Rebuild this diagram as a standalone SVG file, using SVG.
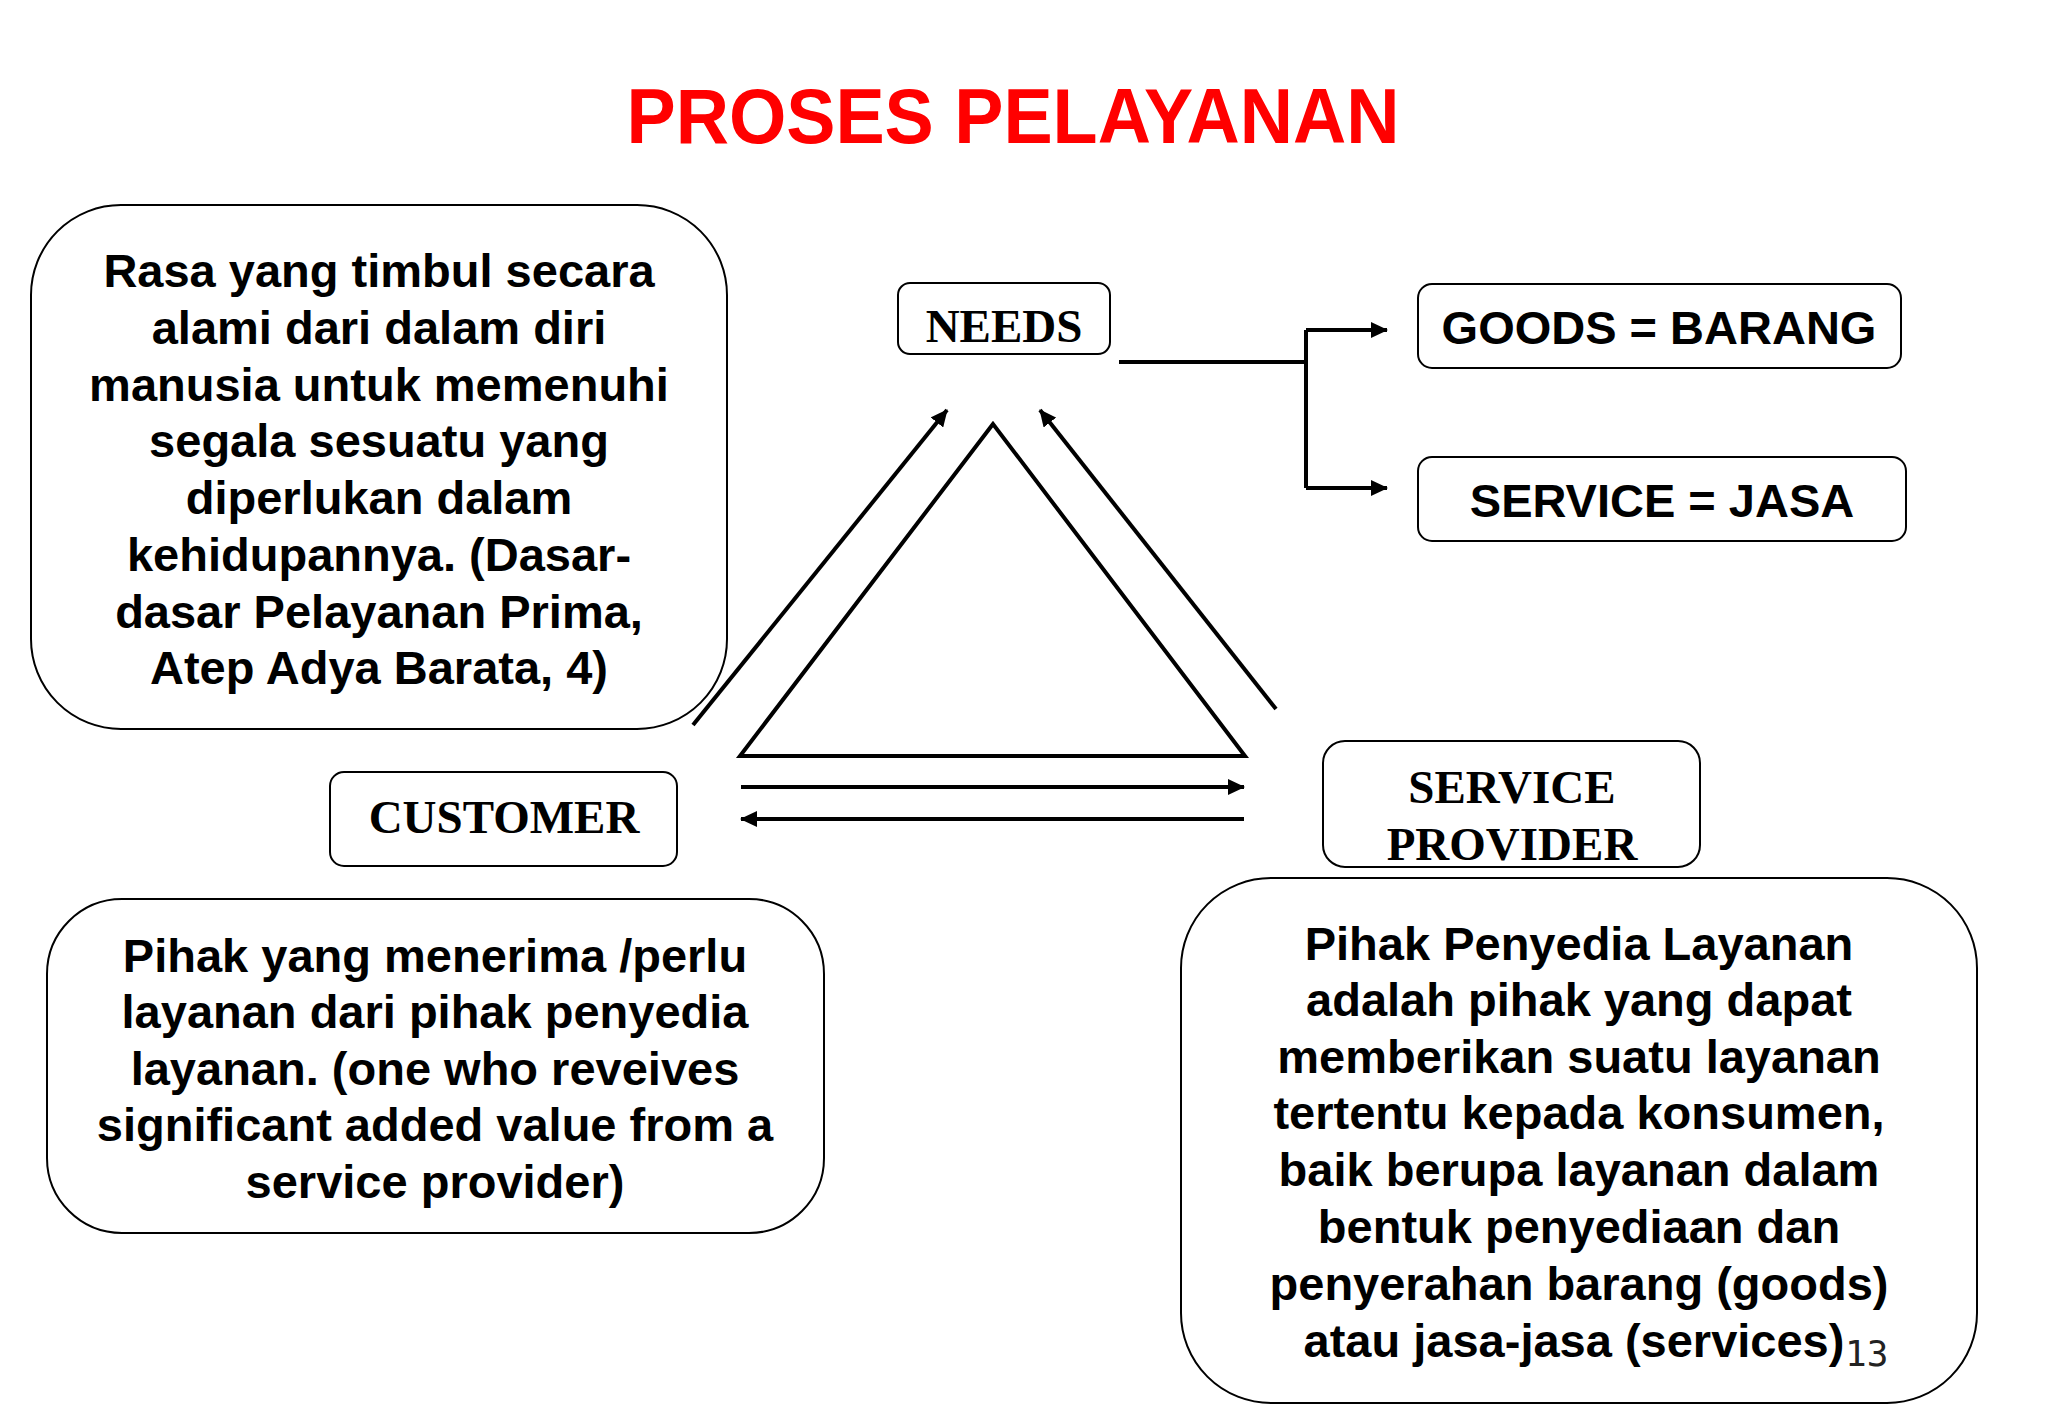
<svg xmlns="http://www.w3.org/2000/svg" width="2048" height="1418" viewBox="0 0 2048 1418">
<style>
.box{fill:#fff;stroke:#000;stroke-width:2}
.sans{font-family:"Liberation Sans",Arial,sans-serif;font-weight:bold;font-size:47px;fill:#000;text-anchor:middle}
.serif{font-family:"Liberation Serif","Times New Roman",serif;font-weight:bold;font-size:47px;fill:#000;text-anchor:middle}
.ln{fill:none;stroke:#000;stroke-width:4}
</style>
<defs>
<marker id="ah" markerUnits="userSpaceOnUse" markerWidth="17" markerHeight="16" refX="16" refY="8" orient="auto">
<path d="M0,0 L17,8 L0,16 z" fill="#000"/>
</marker>
</defs>
<rect width="2048" height="1418" fill="#fff"/>
<text id="title" x="1013" y="143" font-family="'Comic Sans MS','Liberation Sans',sans-serif" font-weight="bold" font-size="78" fill="#ff0000" text-anchor="middle" textLength="773" lengthAdjust="spacingAndGlyphs">PROSES PELAYANAN</text>

<g id="connectors">
<polygon class="ln" points="993,424 740,756 1245,756"/>
<line class="ln" x1="693" y1="725" x2="947" y2="410" marker-end="url(#ah)"/>
<line class="ln" x1="1276" y1="709" x2="1040" y2="410" marker-end="url(#ah)"/>
<line class="ln" x1="741" y1="787" x2="1244" y2="787" marker-end="url(#ah)"/>
<line class="ln" x1="1244" y1="819" x2="741" y2="819" marker-end="url(#ah)"/>
<path class="ln" d="M1119,362 H1306 M1306,330 V488"/>
<line class="ln" x1="1306" y1="330" x2="1387" y2="330" marker-end="url(#ah)"/>
<line class="ln" x1="1306" y1="488" x2="1387" y2="488" marker-end="url(#ah)"/>
</g>

<g id="needs-def">
<rect class="box" x="31" y="205" width="696" height="524" rx="90"/>
<text class="sans" x="379" y="287">Rasa yang timbul secara</text>
<text class="sans" x="379" y="344">alami dari dalam diri</text>
<text class="sans" x="379" y="401">manusia untuk memenuhi</text>
<text class="sans" x="379" y="457">segala sesuatu yang</text>
<text class="sans" x="379" y="514">diperlukan dalam</text>
<text class="sans" x="379" y="571">kehidupannya. (Dasar-</text>
<text class="sans" x="379" y="628">dasar Pelayanan Prima,</text>
<text class="sans" x="379" y="684">Atep Adya Barata, 4)</text>
</g>

<g id="needs">
<rect class="box" x="898" y="283" width="212" height="71" rx="12"/>
<text class="serif" x="1004" y="342">NEEDS</text>
</g>

<g id="goods">
<rect class="box" x="1418" y="284" width="483" height="84" rx="14"/>
<text class="sans" x="1659" y="344">GOODS = BARANG</text>
</g>

<g id="service">
<rect class="box" x="1418" y="457" width="488" height="84" rx="14"/>
<text class="sans" x="1662" y="517">SERVICE = JASA</text>
</g>

<g id="customer">
<rect class="box" x="330" y="772" width="347" height="94" rx="14"/>
<text class="serif" x="504" y="833">CUSTOMER</text>
</g>

<g id="provider">
<rect class="box" x="1323" y="741" width="377" height="126" rx="22"/>
<text class="serif" x="1512" y="803">SERVICE</text>
<text class="serif" x="1512" y="860">PROVIDER</text>
</g>

<g id="customer-def">
<rect class="box" x="47" y="899" width="777" height="334" rx="75"/>
<text class="sans" x="435" y="972">Pihak yang menerima /perlu</text>
<text class="sans" x="435" y="1028">layanan dari pihak penyedia</text>
<text class="sans" x="435" y="1085">layanan. (one who reveives</text>
<text class="sans" x="435" y="1141">significant added value from a</text>
<text class="sans" x="435" y="1198">service provider)</text>
</g>

<g id="provider-def">
<rect class="box" x="1181" y="878" width="796" height="525" rx="90"/>
<text class="sans" x="1579" y="960">Pihak Penyedia Layanan</text>
<text class="sans" x="1579" y="1016">adalah pihak yang dapat</text>
<text class="sans" x="1579" y="1073">memberikan suatu layanan</text>
<text class="sans" x="1579" y="1129">tertentu kepada konsumen,</text>
<text class="sans" x="1579" y="1186">baik berupa layanan dalam</text>
<text class="sans" x="1579" y="1243">bentuk penyediaan dan</text>
<text class="sans" x="1579" y="1300">penyerahan barang (goods)</text>
<text class="sans" x="1574" y="1357">atau jasa-jasa (services)</text>
</g>

<text id="page" x="1845" y="1366" font-family="'DejaVu Sans Mono','Liberation Mono',monospace" font-size="36" fill="#222">13</text>
</svg>
